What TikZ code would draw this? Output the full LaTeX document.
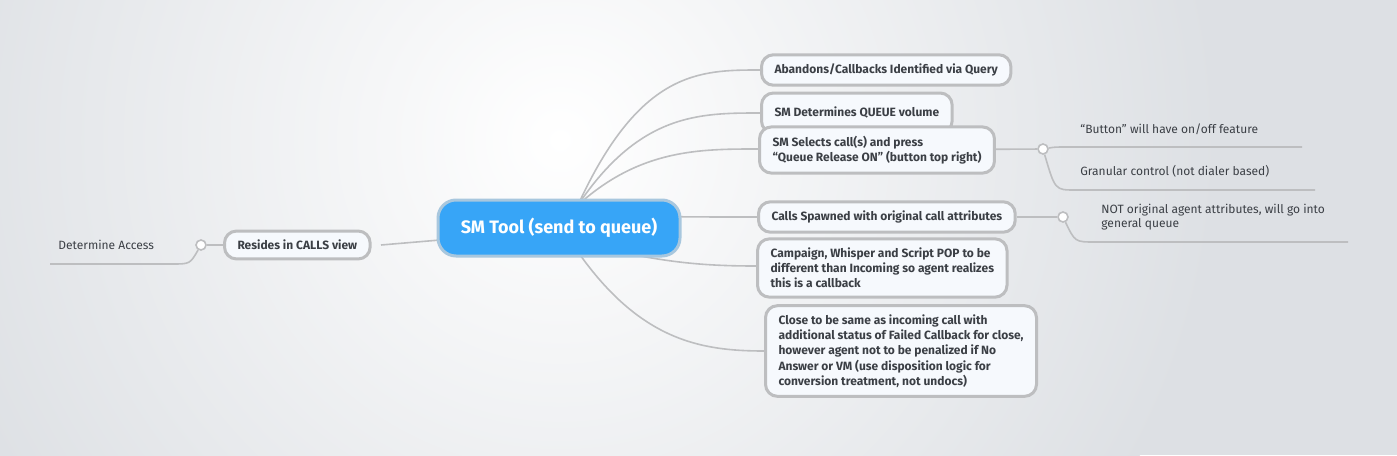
\documentclass[tikz,border=0pt]{standalone}
\usepackage{fontspec}
\setmainfont{Fira Sans}
\usetikzlibrary{positioning}
\definecolor{bgray}{HTML}{DDE0E4}
\definecolor{lgray}{HTML}{BDBEC0}
\definecolor{mainblue}{HTML}{37A5F7}
\definecolor{boxfill}{HTML}{F6F9FD}
\definecolor{txt}{HTML}{3B3F45}
\begin{document}
\begin{tikzpicture}
        [x=0.5pt, y=-0.5pt,
        main/.style={rounded corners=9pt, draw=mainblue!70!black!40!white, line width=1.5pt, fill=mainblue, text=white, font=\bfseries\fontsize{9}{11}\selectfont, inner sep=0pt, minimum width=121pt, minimum height=28pt},
        topic/.style={rounded corners=6pt, draw=lgray, line width=1.5pt, fill=boxfill, text=txt, font=\bfseries\fontsize{6}{7.6}\selectfont, align=left, inner xsep=6.5pt, inner ysep=4.5pt, anchor=west},
        leaf/.style={text=txt, font=\fontsize{6}{7.4}\selectfont, align=left, inner sep=0pt},
        link/.style={lgray, line width=0.8pt},
        knob/.style={circle, draw=lgray, fill=white, line width=0.8pt, inner sep=0pt, minimum size=5pt}]

        % background
        \useasboundingbox (0,0) rectangle (1397,455);
        \fill[bgray] (0,0) rectangle (1397,455);
        \begin{scope}
          \clip (0,0) rectangle (1397,455);
          \shade[inner color=white, outer color=bgray] (560,140) circle (330pt);
        \end{scope}

        % connectors first
        \coordinate (hub) at (578,205);
        \coordinate (hubl) at (440,240);
        \draw[link] (hub) .. controls (640,70) and (700,70) .. (760,70);
        \draw[link] (hub) .. controls (640,113) and (700,113) .. (760,113);
        \draw[link] (hub) .. controls (640,149) and (700,149) .. (758,149);
        \draw[link] (585,215) .. controls (660,217) and (700,217) .. (757,217);
        \draw[link] (590,245) .. controls (660,262) and (700,266) .. (756,266);
        \draw[link] (578,252) .. controls (640,340) and (700,351) .. (764,351);
        \draw[link] (hubl) -- (381,245);

        % central topic
        \node[main] (tool) at (559,228) {SM Tool (send to queue)};

        % right topics
        \node[topic] (abandon) at (760,70) {Abandons/Callbacks Identified via Query};
        \node[topic, minimum height=20pt] (volume) at (760,113) {SM Determines QUEUE volume};
        \node[topic] (select) at (758,150) {SM Selects call(s) and press\\``Queue Release ON'' (button top right)};
        \node[topic] (spawn) at (757,217) {Calls Spawned with original call attributes};
        \node[topic] (campaign) at (756,268) {Campaign, Whisper and Script POP to be\\different than Incoming so agent realizes\\this is a callback};
        \node[topic] (close) at (764,351) {Close to be same as incoming call with\\additional status of Failed Callback for close,\\however agent not to be penalized if No\\Answer or VM (use disposition logic for\\conversion treatment, not undocs)};

        % left topic
        \node[topic] (resides) at (223,245) {Resides in CALLS view};

        % leaves of select
        \node[knob] (k1) at (1043,149) {};
        \draw[link] (select) -- (k1);
        \node[leaf, anchor=west] (button) at (1080,129) {``Button'' will have on/off feature};
        \node[leaf, anchor=west] (granular) at (1080,171) {Granular control (not dialer based)};
        \coordinate (u1) at (1302,147);
        \coordinate (u2) at (1315,190);
        \draw[link] (k1) .. controls (1055,147) .. (1070,147) -- (u1);
        \draw[link] (k1) .. controls (1055,190) .. (1075,190) -- (u2);

        % leaf of spawn
        \node[knob] (k2) at (1063,217) {};
        \draw[link] (spawn) -- (k2);
        \node[leaf, anchor=west] (notorig) at (1101,217) {NOT original agent attributes, will go into\\general queue};
        \coordinate (u3) at (1348,242);
        \draw[link] (k2) .. controls (1075,242) .. (1095,242) -- (u3);

        % leaf of resides
        \node[knob] (k3) at (201,245) {};
        \draw[link] (resides) -- (k3);
        \node[leaf, anchor=west] (access) at (58,245) {Determine Access};
        \coordinate (u4) at (50,264);
        \draw[link] (k3) .. controls (190,264) .. (172,264) -- (u4);
\end{tikzpicture}
\end{document}
